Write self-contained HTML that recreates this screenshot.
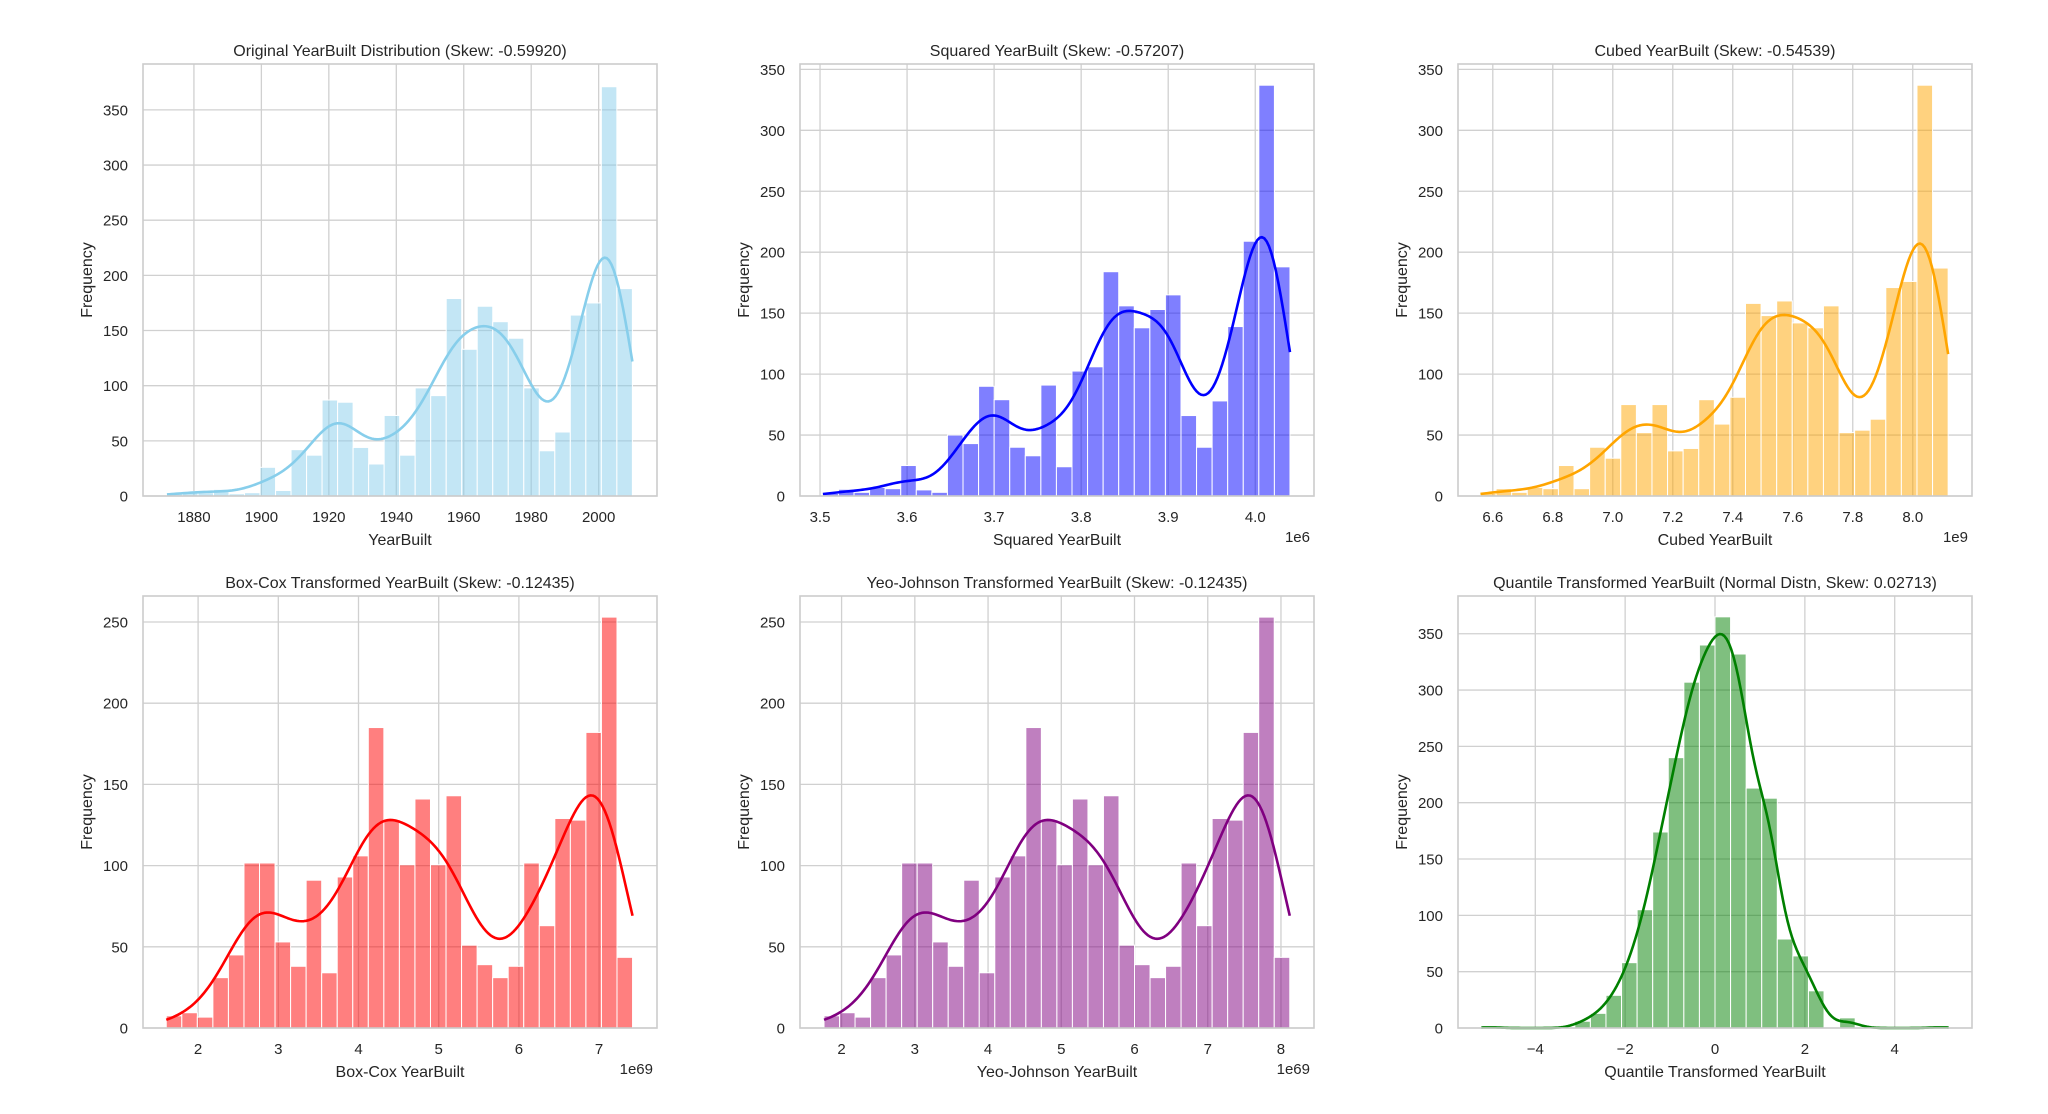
<!DOCTYPE html>
<html><head><meta charset="utf-8">
<style>
html,body{margin:0;padding:0;background:#fff;}
svg{display:block;font-family:"Liberation Sans",Arial,sans-serif;}
</style></head>
<body>
<svg id="fig" width="2048" height="1114" viewBox="0 0 2048 1114" xmlns="http://www.w3.org/2000/svg"></svg>
<script>
// ---------- data ----------
const p1Counts = [2,4,3,6,2,3,26,5,42,37,87,85,44,29,73,37,98,91,179,133,172,158,143,98,41,58,164,175,371,188];
const p1Range = [1872, 2010];
const p1XTicks = [1880,1900,1920,1940,1960,1980,2000];
const p1XLabels = ["1880","1900","1920","1940","1960","1980","2000"];

const p2Counts = [2,5.5,3,7,6,25,5,3,50,43,90,79,40,33,91,24,102.5,106,184,156,138,153,165,66,40,78,139,209,337,188];
const p2Range = [3.5033, 4.0399];
const p2XTicks = [3.5,3.6,3.7,3.8,3.9,4.0];
const p2XLabels = ["3.5","3.6","3.7","3.8","3.9","4.0"];

const p3Counts = [2,6,3,7,6,25,6,40,31,75,52,75,37,39,79,59,81,158,148,160,142,138,156,52,54,63,171,176,337,187];
const p3Range = [6.559, 8.118];
const p3XTicks = [6.6,6.8,7.0,7.2,7.4,7.6,7.8,8.0];
const p3XLabels = ["6.6","6.8","7.0","7.2","7.4","7.6","7.8","8.0"];

const p4Counts = [7.5,9.4,6.7,31,45,101.6,101.6,53,38,91,34,93,106,185,128,100.5,141,100.5,143,51,39,31,38,101.6,63,129,128,182,253,43.5];
const p4Range = [1.603, 7.417];
const p4XTicks = [2,3,4,5,6,7];
const p4XLabels = ["2","3","4","5","6","7"];

const p5Counts = [7.5,9.4,6.7,31,45,101.6,101.6,53,38,91,34,93,106,185,128,100.5,141,100.5,143,51,39,31,38,101.6,63,129,128,182,253,43.5];
const p5Range = [1.76, 8.12];
const p5XTicks = [2,3,4,5,6,7,8];
const p5XLabels = ["2","3","4","5","6","7","8"];

const p6Counts = [1,0,0,0,0,0,6,13,29,58,105,174,240,307,340,365,332,213,204,79,64,33,0,9,0,0,0,0,0,1];
const p6Range = [-5.2, 5.2];
const p6XTicks = [-4,-2,0,2,4];
const p6XLabels = ["\u22124","\u22122","0","2","4"];

const yTicks350 = [0,50,100,150,200,250,300,350];
const yTicks250 = [0,50,100,150,200,250];

// ---------- panel config (layout) ----------
const panels = [
 {id:"original",counts:p1Counts,range:p1Range,xt:p1XTicks,xl:p1XLabels,yt:yTicks350,xlim:[1864.9,2017.3],ylim:391.6,
  L:143,T:64,title:"Original YearBuilt Distribution (Skew: -0.59920)",xlabel:"YearBuilt",off:"",color:"#87CEEB",sig:1.3},
 {id:"squared",counts:p2Counts,range:p2Range,xt:p2XTicks,xl:p2XLabels,yt:yTicks350,xlim:[3.477,4.0675],ylim:354.4,
  L:800,T:64,title:"Squared YearBuilt (Skew: -0.57207)",xlabel:"Squared YearBuilt",off:"1e6",color:"#0000FF",sig:1.3},
 {id:"cubed",counts:p3Counts,range:p3Range,xt:p3XTicks,xl:p3XLabels,yt:yTicks350,xlim:[6.484,8.1975],ylim:354.4,
  L:1458,T:64,title:"Cubed YearBuilt (Skew: -0.54539)",xlabel:"Cubed YearBuilt",off:"1e9",color:"#FFA500",sig:1.3},
 {id:"boxcox",counts:p4Counts,range:p4Range,xt:p4XTicks,xl:p4XLabels,yt:yTicks250,xlim:[1.313,7.722],ylim:266,
  L:143,T:596,title:"Box-Cox Transformed YearBuilt (Skew: -0.12435)",xlabel:"Box-Cox YearBuilt",off:"1e69",color:"#FF0000",sig:1.7},
 {id:"yeojohnson",counts:p5Counts,range:p5Range,xt:p5XTicks,xl:p5XLabels,yt:yTicks250,xlim:[1.432,8.451],ylim:266,
  L:800,T:596,title:"Yeo-Johnson Transformed YearBuilt (Skew: -0.12435)",xlabel:"Yeo-Johnson YearBuilt",off:"1e69",color:"#800080",sig:1.7},
 {id:"quantile",counts:p6Counts,range:p6Range,xt:p6XTicks,xl:p6XLabels,yt:yTicks350,xlim:[-5.72,5.72],ylim:383.5,
  L:1458,T:596,title:"Quantile Transformed YearBuilt (Normal Distn, Skew: 0.02713)",xlabel:"Quantile Transformed YearBuilt",off:"",color:"#008000",sig:0.75}
];
const W = 514, H = 432;
const NS = "http://www.w3.org/2000/svg";
const fig = document.getElementById("fig");
function mk(tag, attrs, parent){
  const e = document.createElementNS(NS, tag);
  for (const k in attrs) e.setAttribute(k, attrs[k]);
  (parent||fig).appendChild(e);
  return e;
}

panels.forEach(p => {
  const g = mk("g", {});
  
  
  const L = p.L, T = p.T, R = L + W, B = T + H;
  const xs = v => L + (v - p.xlim[0]) / (p.xlim[1] - p.xlim[0]) * W;
  const ys = v => B - v / p.ylim * H;

  p.xt.forEach(t => {
    const l = mk("line", {x1:xs(t), x2:xs(t), y1:T, y2:B, stroke:"#d0d0d0", "stroke-width":1.3}, g);
    
    
  });
  p.yt.forEach(t => {
    const l = mk("line", {x1:L, x2:R, y1:ys(t), y2:ys(t), stroke:"#d0d0d0", "stroke-width":1.3}, g);
    
    
  });

  const n = p.counts.length;
  const bw = (p.range[1] - p.range[0]) / n;
  p.counts.forEach((c, i) => {
    if (c <= 0) return;
    const x0 = xs(p.range[0] + i * bw), x1 = xs(p.range[0] + (i + 1) * bw);
    const r = mk("rect", {x:x0, y:ys(c), width:x1 - x0, height:B - ys(c), fill:p.color, "fill-opacity":0.5, stroke:"#ffffff", "stroke-width":1}, g);
    
    
  });

  const pts = [];
  const steps = 200;
  for (let s = 0; s <= steps; s++) {
    const x = p.range[0] + (p.range[1] - p.range[0]) * s / steps;
    const sg = p.sig * bw;
    let d = 0;
    p.counts.forEach((c, i) => {
      const cx = p.range[0] + (i + 0.5) * bw;
      d += c * Math.exp(-0.5 * ((x - cx) / sg) ** 2) / (sg * Math.sqrt(2 * Math.PI));
    });
    pts.push(xs(x).toFixed(2) + "," + ys(d * bw).toFixed(2));
  }
  const kde = mk("polyline", {points:pts.join(" "), fill:"none", stroke:p.color, "stroke-width":2.6, "stroke-linejoin":"round"}, g);
  
  

  const fr = mk("rect", {x:L, y:T, width:W, height:H, fill:"none", stroke:"#cccccc", "stroke-width":1.6}, g);
  
  

  p.xt.forEach((t, i) => {
    const tx = mk("text", {x:xs(t), y:B + 26, "text-anchor":"middle", "font-size":15, fill:"#262626"}, g);
    tx.textContent = p.xl[i];
    
    
  });
  p.yt.forEach(t => {
    const tx = mk("text", {x:L - 15, y:ys(t) + 5.5, "text-anchor":"end", "font-size":15, fill:"#262626"}, g);
    tx.textContent = String(t);
    
    
  });

  const ti = mk("text", {x:L + W / 2, y:T - 8, "text-anchor":"middle", "font-size":16, fill:"#262626"}, g);
  ti.textContent = p.title;
  
  
  const xlab = mk("text", {x:L + W / 2, y:B + 49, "text-anchor":"middle", "font-size":16, fill:"#262626"}, g);
  xlab.textContent = p.xlabel;
  
  
  const ylab = mk("text", {x:0, y:0, "text-anchor":"middle", "font-size":16, fill:"#262626",
    transform:"translate(" + (L - 51) + "," + (T + H / 2) + ") rotate(-90)"}, g);
  ylab.textContent = "Frequency";
  
  
  if (p.off) {
    const o = mk("text", {x:R - 4, y:B + 46, "text-anchor":"end", "font-size":15, fill:"#262626"}, g);
    o.textContent = p.off;
    
    
  }
});
</script>
</body></html>
